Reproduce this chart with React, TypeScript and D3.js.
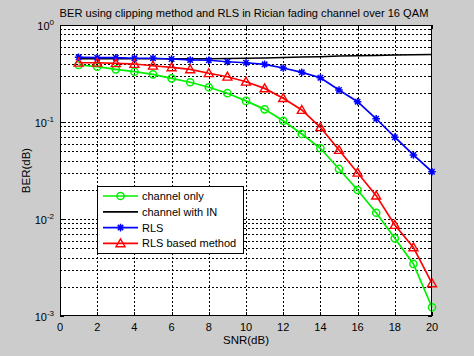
import React from 'react';
import * as d3 from 'd3';

const snr = [1, 2, 3, 4, 5, 6, 7, 8, 9, 10, 11, 12, 13, 14, 15, 16, 17, 18, 19, 20];
const channelOnly = [0.387, 0.372, 0.349, 0.33, 0.31, 0.282, 0.257, 0.228, 0.198, 0.165, 0.135, 0.103, 0.0752, 0.0536, 0.0328, 0.0199, 0.0116, 0.00632, 0.00344, 0.00123];
const channelIN = [0.45, 0.45, 0.45, 0.45, 0.45, 0.45, 0.45, 0.45, 0.452, 0.455, 0.458, 0.462, 0.468, 0.472, 0.478, 0.482, 0.486, 0.49, 0.493, 0.496];
const rls = [0.465, 0.46, 0.46, 0.454, 0.454, 0.446, 0.436, 0.433, 0.418, 0.408, 0.393, 0.36, 0.325, 0.286, 0.214, 0.162, 0.108, 0.0697, 0.0457, 0.0307];
const rlsBased = [0.408, 0.408, 0.403, 0.396, 0.38, 0.366, 0.349, 0.318, 0.293, 0.26, 0.222, 0.176, 0.133, 0.0882, 0.0514, 0.03, 0.0174, 0.00867, 0.0051, 0.00217];
const xTicks = [0, 2, 4, 6, 8, 10, 12, 14, 16, 18, 20];
const yTickExps = [0, -1, -2, -3];
const legendLabels = ['channel only', 'channel with IN', 'RLS', 'RLS based method'];
const title = 'BER using clipping method and RLS in Rician fading channel over 16 QAM';

const FONT = 'Liberation Sans, Arial, sans-serif';

function Marker({ type, cx, cy, color }: { type: string; cx: number; cy: number; color: string }) {
  if (type === 'circle') return <circle cx={cx} cy={cy} r={3.6} fill="none" stroke={color} strokeWidth={1.5} />;
  if (type === 'triangle') {
    const s = 4.5;
    return <path d={`M${cx},${cy - s} L${cx + s},${cy + s * 0.75} L${cx - s},${cy + s * 0.75} Z`} fill="none" stroke={color} strokeWidth={1.4} />;
  }
  if (type === 'star') {
    const s = 3.8, d = 2.7;
    return <path d={`M${cx - s},${cy} L${cx + s},${cy} M${cx},${cy - s} L${cx},${cy + s} M${cx - d},${cy - d} L${cx + d},${cy + d} M${cx - d},${cy + d} L${cx + d},${cy - d}`} stroke={color} strokeWidth={1.5} />;
  }
  return null;
}

export default function App() {
  const W = 474, H = 356;
  const L = 60, R = 432, T = 25, B = 316;
  const x = d3.scaleLinear().domain([0, 20]).range([L, R]);
  const y = d3.scaleLog().domain([1e-3, 1]).range([B, T]);

  const minor: number[] = [];
  for (let k = -3; k < 0; k++) for (let i = 2; i <= 9; i++) minor.push(i * Math.pow(10, k));

  const series = [
    { name: legendLabels[0], data: channelOnly, color: '#00f000', marker: 'circle' },
    { name: legendLabels[1], data: channelIN, color: '#000000', marker: 'none' },
    { name: legendLabels[2], data: rls, color: '#0000ff', marker: 'star' },
    { name: legendLabels[3], data: rlsBased, color: '#ff0000', marker: 'triangle' },
  ];

  const line = d3.line<number>().x((_, i) => x(snr[i])).y((d) => y(d));
  const r = (v: number) => Math.round(v) + 0.5;
  const dash = '2,2';

  const lx = 97, ly = 186, lw = 146, lh = 67;

  return (
    <svg width={W} height={H} style={{ position: 'fixed', left: 0, top: 0 }} fontFamily={FONT}>
      <rect x={0} y={0} width={W} height={H} fill="#cccccc" />
      <rect x={L} y={T} width={R - L} height={B - T} fill="#ffffff" />
      {/* grid */}
      <g stroke="#000" strokeWidth={1} strokeDasharray={dash} shapeRendering="crispEdges">
        {xTicks.slice(1, -1).map((t) => (
          <line key={'gx' + t} x1={r(x(t))} x2={r(x(t))} y1={T} y2={B} />
        ))}
        {minor.concat([0.1, 0.01]).map((t) => (
          <line key={'gy' + t} x1={L} x2={R} y1={r(y(t))} y2={r(y(t))} />
        ))}
      </g>
      {/* ticks */}
      <g stroke="#000" strokeWidth={1} shapeRendering="crispEdges">
        {xTicks.map((t) => (
          <g key={'tx' + t}>
            <line x1={r(x(t))} x2={r(x(t))} y1={B} y2={B - 4} />
            <line x1={r(x(t))} x2={r(x(t))} y1={T} y2={T + 4} />
          </g>
        ))}
        {yTickExps.map((e) => (
          <g key={'ty' + e}>
            <line x1={L} x2={L + 4} y1={r(y(Math.pow(10, e)))} y2={r(y(Math.pow(10, e)))} />
            <line x1={R} x2={R - 4} y1={r(y(Math.pow(10, e)))} y2={r(y(Math.pow(10, e)))} />
          </g>
        ))}
        {minor.map((t) => (
          <g key={'tm' + t}>
            <line x1={L} x2={L + 2} y1={r(y(t))} y2={r(y(t))} />
            <line x1={R} x2={R - 2} y1={r(y(t))} y2={r(y(t))} />
          </g>
        ))}
      </g>
      {/* series */}
      {series.map((s) => (
        <g key={s.name}>
          <path d={line(s.data) || ''} fill="none" stroke={s.color} strokeWidth={s.marker === 'none' ? 1.5 : 1.7} />
          {s.marker !== 'none' && s.data.map((v, i) => (
            <Marker key={i} type={s.marker} cx={x(snr[i])} cy={y(v)} color={s.color} />
          ))}
        </g>
      ))}
      {/* box */}
      <rect x={L + 0.5} y={T + 0.5} width={R - L - 1} height={B - T - 1} fill="none" stroke="#000" strokeWidth={1} shapeRendering="crispEdges" />
      {/* x tick labels */}
      {xTicks.map((t) => (
        <text key={'xl' + t} x={x(t)} y={B + 15} textAnchor="middle" fontSize={11} fill="#000">{t}</text>
      ))}
      {/* y tick labels */}
      {yTickExps.map((e) => (
        <text key={'yl' + e} x={L - 6} y={y(Math.pow(10, e)) + 4.5} textAnchor="end" fontSize={11} fill="#000">
          10<tspan dy={-5} fontSize={8}>{e}</tspan>
        </text>
      ))}
      {/* title and labels */}
      <text x={244} y={17} textAnchor="middle" fontSize={11.1} fill="#000">{title}</text>
      <text x={(L + R) / 2} y={344} textAnchor="middle" fontSize={11.5} fill="#000">SNR(dB)</text>
      <text transform={`translate(30,${(T + B) / 2}) rotate(-90)`} textAnchor="middle" fontSize={11.5} fill="#000">BER(dB)</text>
      {/* legend */}
      <g>
        <rect x={lx + 0.5} y={ly + 0.5} width={lw} height={lh} fill="#fff" stroke="#000" strokeWidth={1} shapeRendering="crispEdges" />
        {series.map((s, i) => {
          const yy = ly + 10 + i * 15.8;
          return (
            <g key={'lg' + i}>
              <line x1={lx + 6} x2={lx + 41} y1={yy} y2={yy} stroke={s.color} strokeWidth={1.7} />
              {s.marker !== 'none' && <Marker type={s.marker} cx={lx + 23.5} cy={yy} color={s.color} />}
              <text x={lx + 45} y={yy + 4} fontSize={11} fill="#000">{s.name}</text>
            </g>
          );
        })}
      </g>
    </svg>
  );
}
